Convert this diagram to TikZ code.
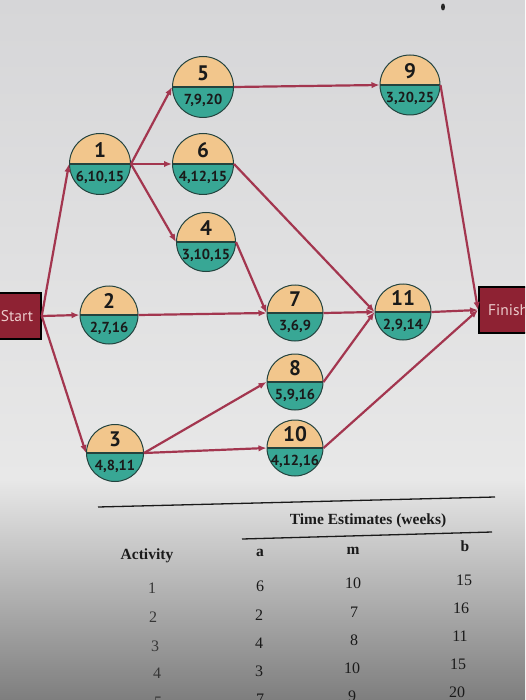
\documentclass[tikz,border=0pt]{standalone}
\usepackage{fontspec}
\newfontfamily\diagfont{PT Sans}
\newfontfamily\tabfont{Liberation Serif}
\usetikzlibrary{arrows.meta}
\definecolor{edgec}{HTML}{A3364F}
\definecolor{topc}{HTML}{F2C68C}
\definecolor{botc}{HTML}{38A795}
\definecolor{rimc}{HTML}{24433E}
\definecolor{boxc}{HTML}{8E2233}
\definecolor{boxtext}{HTML}{EBCBCB}
\definecolor{bgtop}{HTML}{D6D6D8}
\definecolor{bgmid}{HTML}{E8E8E8}
\definecolor{bgbot}{HTML}{7E7E7E}
\definecolor{inkc}{HTML}{1A1A1A}
\definecolor{greyink}{HTML}{363636}
\tikzset{
  actnode/.style={circle, minimum size=#1, inner sep=0pt, draw=rimc, line width=1pt,
    path picture={
      \fill[topc] (path picture bounding box.north west) rectangle (path picture bounding box.east);
      \fill[botc] (path picture bounding box.west) rectangle (path picture bounding box.south east);
      \draw[rimc, line width=1.3pt] (path picture bounding box.west) -- (path picture bounding box.east);}},
  toplab/.style={font=\diagfont\bfseries\fontsize{21}{21}\selectfont, text=inkc, inner sep=0pt},
  botlab/.style={font=\diagfont\bfseries\fontsize{14.5}{14.5}\selectfont, text=inkc, inner sep=0pt},
  conn/.style={draw=edgec, line width=2.2pt, -{Latex[length=8pt,width=6.5pt]}},
  endbox/.style={rectangle, fill=boxc, draw=black, line width=1.5pt},
  endtext/.style={text=boxtext, font=\diagfont\fontsize{15.5}{15.5}\selectfont, inner sep=0pt},
  tabhead/.style={font=\tabfont\bfseries\fontsize{15.5}{15.5}\selectfont, text=inkc, inner sep=0pt},
  tabnum/.style={font=\tabfont\fontsize{16}{16}\selectfont, text=inkc, inner sep=0pt},
  tabact/.style={font=\tabfont\fontsize{16}{16}\selectfont, text=greyink, inner sep=0pt},
}
\newcommand\actcircle[6]{%
  \node[actnode=#6] (#1) at (#2,#3) {};
  \node[toplab] (#1t) at ([yshift=14pt]#1.center) {#4};
  \node[botlab] (#1b) at ([yshift=-13pt]#1.center) {#5};
}
\begin{document}
\begin{tikzpicture}[x=1pt,y=-1pt]
\useasboundingbox (0,0) rectangle (525,700);
\clip (0,0) rectangle (525,700);
\shade[top color=bgtop, bottom color=bgmid] (0,0) rectangle (525,480);
\shade[top color=bgmid, bottom color=bgbot] (0,479.5) rectangle (525,700);
\fill[black!85] (443,7) ellipse (2pt and 3.5pt);

% start / finish
\node[endbox, minimum width=48pt, minimum height=46pt] (start) at (17,316) {};
\node[endtext] (starttext) at (start.center) {Start};
\node[endbox, minimum width=64pt, minimum height=46pt, anchor=west] (finish) at (478,310) {};
\node[endtext, anchor=west] (finishtext) at ([xshift=10pt]finish.west) {Finish};

% activities
\actcircle{n5}{203}{87}{5}{7,9,20}{61pt}
\actcircle{n9}{410}{85}{9}{3,20,25}{60pt}
\actcircle{n1}{100}{164}{1}{6,10,15}{61pt}
\actcircle{n6}{203}{164}{6}{4,12,15}{61pt}
\actcircle{n4}{206}{242}{4}{3,10,15}{59pt}
\actcircle{n2}{109}{315}{2}{2,7,16}{58pt}
\actcircle{n7}{295}{313}{7}{3,6,9}{56pt}
\actcircle{n11}{403}{312}{11}{2,9,14}{56pt}
\actcircle{n8}{295}{382}{8}{5,9,16}{56pt}
\actcircle{n10}{295}{448}{10}{4,12,16}{56pt}
\actcircle{n3}{115}{453}{3}{4,8,11}{57pt}

% connectors
\draw[conn] (start.east) -- (n1.west);
\draw[conn] (start.east) -- (n2.west);
\draw[conn] (start.east) -- (n3.west);
\draw[conn] (n1.east) -- (n5.west);
\draw[conn] (n1.east) -- (n6.west);
\draw[conn] (n1.east) -- (n4.west);
\draw[conn] (n5.east) -- (n9.west);
\draw[conn] (n6.east) -- (n11.west);
\draw[conn] (n4.east) -- (n7.west);
\draw[conn] (n2.east) -- (n7.west);
\draw[conn] (n7.east) -- (n11.west);
\draw[conn] (n8.east) -- (n11.west);
\draw[conn] (n3.east) -- (n8.west);
\draw[conn] (n3.east) -- (n10.west);
\draw[conn] (n9.east) -- (finish.west);
\draw[conn] (n11.east) -- (finish.west);
\draw[conn] (n10.east) -- (finish.west);

% table
\coordinate (r1a) at (98,507); \coordinate (r1b) at (495,497);
\coordinate (r2a) at (242,539); \coordinate (r2b) at (492,532);
\draw[inkc, line width=1.3pt] (r1a) -- (r1b);
\draw[inkc, line width=1.3pt] (r2a) -- (r2b);
\node[tabhead] (hte) at (368,521) {Time Estimates (weeks)};
\node[tabhead] (hact) at (147,556) {Activity};
\node[tabhead] (ha) at (260,553) {a};
\node[tabhead] (hm) at (353,551) {m};
\node[tabhead] (hb) at (465,546) {b};

\node[tabact] (a1) at (152,588) {1};
\node[tabnum] (a1a) at (260,586) {6};
\node[tabnum] (a1m) at (353,583) {10};
\node[tabnum] (a1b) at (464,580) {15};

\node[tabact] (a2) at (153,617) {2};
\node[tabnum] (a2a) at (259,615) {2};
\node[tabnum] (a2m) at (354,612) {7};
\node[tabnum] (a2b) at (461,608) {16};

\node[tabact] (a3) at (155,646) {3};
\node[tabnum] (a3a) at (259,643) {4};
\node[tabnum] (a3m) at (354,640) {8};
\node[tabnum] (a3b) at (460,636) {11};

\node[tabact] (a4) at (157,673) {4};
\node[tabnum] (a4a) at (259,671) {3};
\node[tabnum] (a4m) at (352,668) {10};
\node[tabnum] (a4b) at (458,664) {15};

\node[tabact] (a5) at (158,702) {5};
\node[tabnum] (a5a) at (260,699) {7};
\node[tabnum] (a5m) at (352,696) {9};
\node[tabnum] (a5b) at (457,692) {20};
\end{tikzpicture}
\end{document}
